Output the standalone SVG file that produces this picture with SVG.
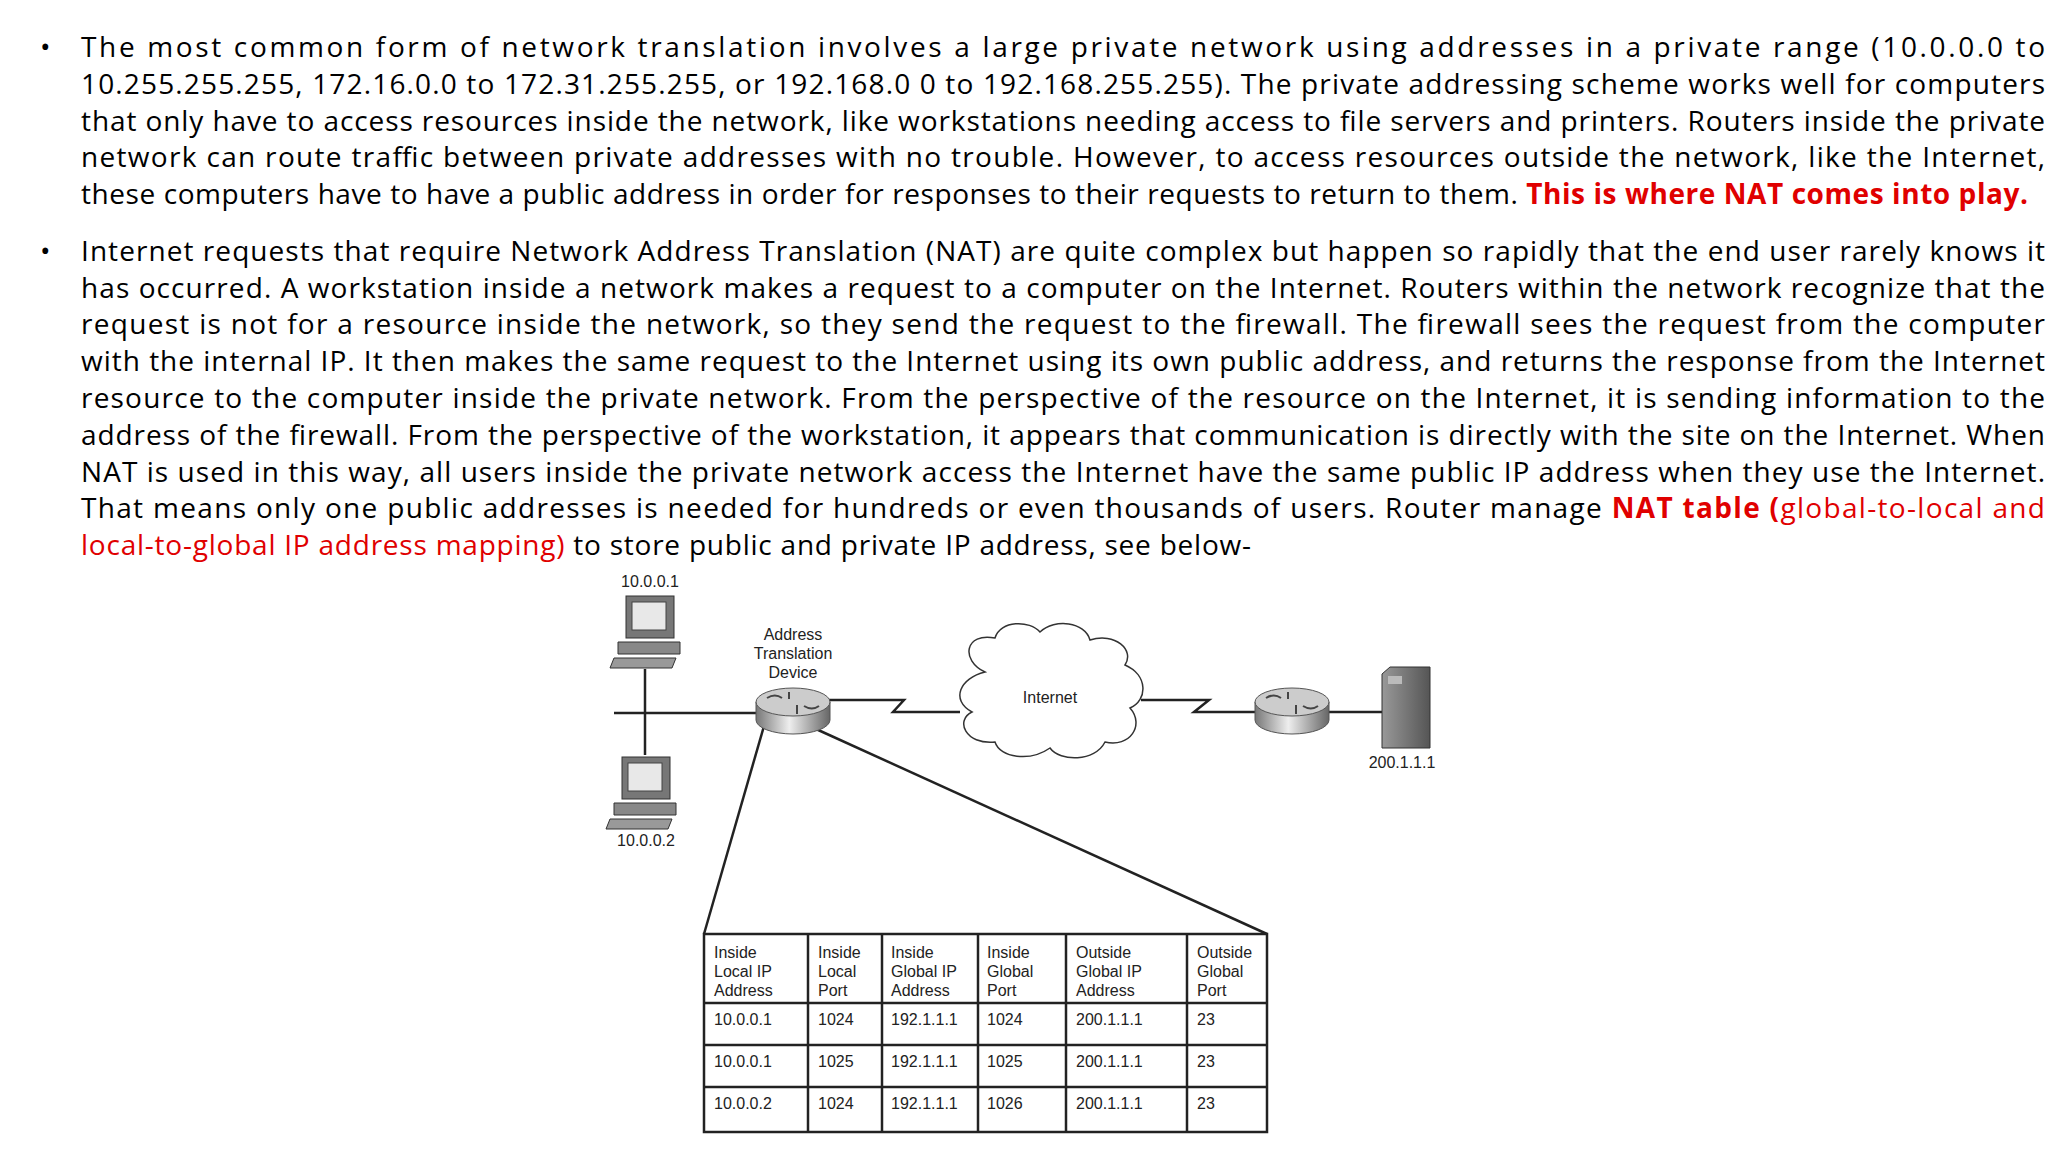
<svg xmlns="http://www.w3.org/2000/svg" width="2048" height="1152" viewBox="0 0 2048 1152">
<defs>
<style>
.t{font-family:"Open Sans","Noto Sans",sans-serif;font-size:28px;fill:#000}
.r{fill:#e00000}
.b{font-weight:bold}
.d{font-family:"Liberation Sans",Arial,sans-serif;font-size:16px;fill:#222}
.ln{stroke:#222;stroke-width:2.5;fill:none}
.tb{stroke:#222;stroke-width:2.5;fill:none}
</style>
<linearGradient id="rg" x1="0" x2="1" y1="0" y2="0">
<stop offset="0" stop-color="#777"/><stop offset="0.45" stop-color="#eee"/><stop offset="1" stop-color="#666"/>
</linearGradient>
<linearGradient id="sv" x1="0" x2="1">
<stop offset="0" stop-color="#999"/><stop offset="1" stop-color="#555"/>
</linearGradient>
<g id="router">
<path d="M-37,-8 L-37,10 A37,14 0 0 0 37,10 L37,-8 Z" fill="url(#rg)" stroke="#555" stroke-width="1"/>
<ellipse cx="0" cy="-8" rx="37" ry="14" fill="#ccc" stroke="#555" stroke-width="1"/>
<path d="M-26,-12 q8,-5 15,0 M11,-4 q8,5 15,0 M-4,-18 l0,7 M4,-5 l0,9" stroke="#444" stroke-width="2" fill="none"/>
</g>
<g id="pc">
<rect x="12" y="0" width="48" height="42" fill="#777" stroke="#333"/>
<rect x="18" y="6" width="34" height="28" fill="#e8e8e8" stroke="#444"/>
<path d="M4,46 L66,46 L66,58 L4,58 Z" fill="#888" stroke="#333"/>
<path d="M0,62 L62,62 L58,72 L-4,72 Z" fill="#999" stroke="#333"/>
</g>
</defs>
<rect width="2048" height="1152" fill="#fff"/>

<g id="text">
<text class="t" x="40" y="57">•</text>
<text class="t" x="81" y="57" textLength="1964" lengthAdjust="spacing">The most common form of network translation involves a large private network using addresses in a private range (10.0.0.0 to</text>
<text class="t" x="81" y="94" textLength="1964" lengthAdjust="spacing">10.255.255.255, 172.16.0.0 to 172.31.255.255, or 192.168.0 0 to 192.168.255.255). The private addressing scheme works well for computers</text>
<text class="t" x="81" y="131" textLength="1964" lengthAdjust="spacing">that only have to access resources inside the network, like workstations needing access to file servers and printers. Routers inside the private</text>
<text class="t" x="81" y="167" textLength="1964" lengthAdjust="spacing">network can route traffic between private addresses with no trouble. However, to access resources outside the network, like the Internet,</text>
<text class="t" x="81" y="204" textLength="1947" lengthAdjust="spacing">these computers have to have a public address in order for responses to their requests to return to them. <tspan class="r b">This is where NAT comes into play.</tspan></text>

<text class="t" x="40" y="261">•</text>
<text class="t" x="81" y="261" textLength="1964" lengthAdjust="spacing">Internet requests that require Network Address Translation (NAT) are quite complex but happen so rapidly that the end user rarely knows it</text>
<text class="t" x="81" y="298" textLength="1964" lengthAdjust="spacing">has occurred. A workstation inside a network makes a request to a computer on the Internet. Routers within the network recognize that the</text>
<text class="t" x="81" y="334" textLength="1964" lengthAdjust="spacing">request is not for a resource inside the network, so they send the request to the firewall. The firewall sees the request from the computer</text>
<text class="t" x="81" y="371" textLength="1964" lengthAdjust="spacing">with the internal IP. It then makes the same request to the Internet using its own public address, and returns the response from the Internet</text>
<text class="t" x="81" y="408" textLength="1964" lengthAdjust="spacing">resource to the computer inside the private network. From the perspective of the resource on the Internet, it is sending information to the</text>
<text class="t" x="81" y="445" textLength="1964" lengthAdjust="spacing">address of the firewall. From the perspective of the workstation, it appears that communication is directly with the site on the Internet. When</text>
<text class="t" x="81" y="482" textLength="1964" lengthAdjust="spacing">NAT is used in this way, all users inside the private network access the Internet have the same public IP address when they use the Internet.</text>
<text class="t" x="81" y="518" textLength="1964" lengthAdjust="spacing">That means only one public addresses is needed for hundreds or even thousands of users. Router manage <tspan class="r b">NAT table (</tspan><tspan class="r">global-to-local and</tspan></text>
<text class="t" x="81" y="555" textLength="1170" lengthAdjust="spacing"><tspan class="r">local-to-global IP address mapping)</tspan> to store public and private IP address, see below-</text>
</g>

<g id="connectors">
<line class="ln" x1="645" y1="669" x2="645" y2="755"/>
<line class="ln" x1="614" y1="713" x2="760" y2="713"/>
<polyline class="ln" points="829,700 904,700 893,712 960,712"/>
<polyline class="ln" points="1141,700 1209,700 1194,712 1258,712"/>
<line class="ln" x1="1326" y1="712" x2="1382" y2="712"/>
<line class="ln" x1="764" y1="726" x2="704" y2="934"/>
<line class="ln" x1="816" y1="729" x2="1267" y2="934"/>
</g>

<g id="pc1"><use href="#pc" x="614" y="596"/><text class="d" x="650" y="587" text-anchor="middle">10.0.0.1</text></g>
<g id="pc2"><use href="#pc" x="610" y="757"/><text class="d" x="646" y="846" text-anchor="middle">10.0.0.2</text></g>
<g id="nat-router"><use href="#router" x="793" y="710"/>
<text class="d" x="793" y="640" text-anchor="middle">Address</text>
<text class="d" x="793" y="659" text-anchor="middle">Translation</text>
<text class="d" x="793" y="678" text-anchor="middle">Device</text></g>
<g id="internet">
<path d="M985,672 C960,660 965,632 995,638 C1000,620 1030,620 1040,632 C1055,618 1085,622 1090,640 C1115,632 1135,650 1125,665 C1148,675 1148,700 1130,708 C1145,725 1130,748 1105,742 C1095,762 1060,762 1050,748 C1030,762 1000,758 995,742 C965,745 955,720 972,712 C950,700 960,678 985,672 Z" fill="#fff" stroke="#333" stroke-width="1.5"/>
<text class="d" x="1050" y="703" text-anchor="middle" font-size="18">Internet</text></g>
<g id="router2"><use href="#router" x="1292" y="710"/></g>
<g id="server">
<path d="M1382,674 L1390,667 L1430,667 L1430,748 L1382,748 Z" fill="url(#sv)" stroke="#333"/>
<rect x="1388" y="676" width="14" height="8" fill="#bbb"/>
<text class="d" x="1402" y="768" text-anchor="middle">200.1.1.1</text></g>

<g id="nat-table">
<rect class="tb" x="704" y="934" width="563" height="198"/>
<line class="tb" x1="704" y1="1003" x2="1267" y2="1003"/>
<line class="tb" x1="704" y1="1045" x2="1267" y2="1045"/>
<line class="tb" x1="704" y1="1087" x2="1267" y2="1087"/>
<line class="tb" x1="808" y1="934" x2="808" y2="1132"/>
<line class="tb" x1="882" y1="934" x2="882" y2="1132"/>
<line class="tb" x1="978" y1="934" x2="978" y2="1132"/>
<line class="tb" x1="1066" y1="934" x2="1066" y2="1132"/>
<line class="tb" x1="1187" y1="934" x2="1187" y2="1132"/>
<g class="d">
<text x="714" y="958">Inside</text><text x="714" y="977">Local IP</text><text x="714" y="996">Address</text>
<text x="818" y="958">Inside</text><text x="818" y="977">Local</text><text x="818" y="996">Port</text>
<text x="891" y="958">Inside</text><text x="891" y="977">Global IP</text><text x="891" y="996">Address</text>
<text x="987" y="958">Inside</text><text x="987" y="977">Global</text><text x="987" y="996">Port</text>
<text x="1076" y="958">Outside</text><text x="1076" y="977">Global IP</text><text x="1076" y="996">Address</text>
<text x="1197" y="958">Outside</text><text x="1197" y="977">Global</text><text x="1197" y="996">Port</text>
<text x="714" y="1025">10.0.0.1</text><text x="818" y="1025">1024</text><text x="891" y="1025">192.1.1.1</text><text x="987" y="1025">1024</text><text x="1076" y="1025">200.1.1.1</text><text x="1197" y="1025">23</text>
<text x="714" y="1067">10.0.0.1</text><text x="818" y="1067">1025</text><text x="891" y="1067">192.1.1.1</text><text x="987" y="1067">1025</text><text x="1076" y="1067">200.1.1.1</text><text x="1197" y="1067">23</text>
<text x="714" y="1109">10.0.0.2</text><text x="818" y="1109">1024</text><text x="891" y="1109">192.1.1.1</text><text x="987" y="1109">1026</text><text x="1076" y="1109">200.1.1.1</text><text x="1197" y="1109">23</text>
</g>
</g>
</svg>
